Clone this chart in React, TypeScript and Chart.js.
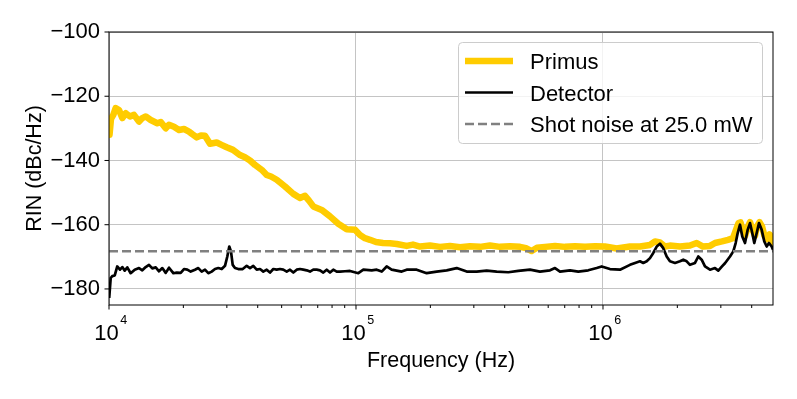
import React, { useEffect, useRef } from 'react';
import { Chart, registerables } from 'chart.js';

Chart.register(...registerables);

const FONT = '"Liberation Sans", Arial, Helvetica, sans-serif';

// Primus laser RIN (frequency in Hz, RIN in dBc/Hz)
const primusFreq = [
  10050, 10190, 10410, 10640, 10980, 11320, 11690, 12160, 12620, 13230, 13640, 14080, 14750, 15690,
  16200, 16970, 17500, 18330, 19200, 20120, 21080, 21740, 22650, 23570, 24470, 25640, 27290, 28680,
  29960, 31770, 33910, 35530, 37230, 39010, 41520, 43500, 45290, 47750, 51600, 55760, 59340, 62170,
  64530, 67170, 72630, 78480, 84800, 91700, 99100, 103800, 108700, 113900, 120500, 128600, 137300,
  146200, 160400, 170100, 181600, 199400, 218800, 240200, 263700, 289400, 317700, 348700, 382800,
  420200, 461300, 487800, 514300, 540400, 582500, 639400, 701900, 770300, 845600, 928200, 1019000,
  1136000, 1228000, 1286000, 1412000, 1550000, 1624000, 1701000, 1782000, 1867000, 2050000, 2250000,
  2395000, 2540000, 2712000, 2841000, 3033000, 3207000, 3360000, 3455000, 3537000, 3604000, 3672000,
  3758000, 3864000, 3937000, 4030000, 4125000, 4203000, 4302000, 4404000, 4507000, 4613000, 4722000,
  4811000, 4879000,
];
const primusRin = [
  -132.0, -127.0, -125.8, -123.7, -124.3, -126.8, -125.3, -126.3, -125.8, -127.9, -126.8, -126.3, -127.4, -128.4,
  -128.0, -130.0, -128.9, -129.5, -130.5, -130.2, -131.0, -131.8, -132.8, -132.2, -132.3, -134.8, -134.4, -135.2,
  -135.9, -136.7, -138.3, -139.0, -140.0, -141.4, -142.9, -144.5, -145.0, -146.0, -148.1, -150.4, -151.7, -151.0,
  -152.5, -154.3, -155.4, -157.4, -159.7, -161.4, -161.6, -163.2, -164.2, -164.7, -165.4, -165.7, -165.8,
  -166.0, -166.6, -166.2, -166.8, -166.5, -166.9, -166.6, -167.0, -166.7, -166.9, -166.5, -166.9,
  -166.7, -166.9, -167.3, -168.2, -167.2, -166.9, -166.6, -166.9, -166.7, -166.9, -166.7, -166.8,
  -167.4, -167.0, -166.8, -166.8, -166.3, -165.2, -165.5, -166.8, -166.5, -166.8, -166.5,
  -165.7, -166.8, -166.6, -165.7, -165.2, -164.7, -164.2, -161.6, -159.5, -159.3, -161.5,
  -163.5, -160.5, -159.2, -161.5, -163.5, -160.5, -159.2, -160.5, -163.5, -164.5, -163.0,
  -164.0, -165.7,
];

// Detector noise floor
const detectorFreq = [
  10020, 10160, 10310, 10550, 10800, 11080, 11320, 11580, 11860, 12240, 12710, 13230, 13640, 14080,
  14520, 14970, 15460, 15940, 16440, 16970, 17500, 18210, 18800, 19510, 20120, 20750, 21420, 22290,
  22990, 23730, 24470, 25230, 26040, 26860, 27700, 28600, 29490, 30130, 30690, 31180, 31680, 32370,
  33380, 34780, 36100, 37230, 38380, 39630, 40870, 42150, 43500, 44850, 46260, 47750, 49230, 50780,
  52420, 54040, 55760, 57540, 59340, 61170, 63140, 65120, 67170, 69330, 71500, 73730, 76110, 78480,
  80930, 83540, 86140, 90260, 94560, 102200, 107100, 115800, 121300, 127100, 133100, 139400, 153100,
  160400, 176100, 193300, 212200, 232900, 255700, 280700, 308100, 338100, 371200, 413600, 454100,
  506400, 555700, 610300, 639400, 669900, 735300, 794300, 871800, 943000, 987900, 1067000, 1172000,
  1286000, 1348000, 1412000, 1456000, 1503000, 1550000, 1598000, 1650000, 1701000, 1754000, 1811000,
  1867000, 1957000, 2050000, 2114000, 2182000, 2250000, 2358000, 2431000, 2509000, 2588000, 2712000,
  2841000, 2930000, 3033000, 3118000, 3268000, 3370000, 3445000, 3511000, 3587000, 3664000, 3758000,
  3853000, 3937000, 4022000, 4098000, 4191000, 4282000, 4390000, 4498000, 4600000, 4700000, 4819000,
  4879000,
];
const detectorRin = [
  -182.8, -176.6, -176.0, -175.8, -173.0, -174.0, -173.2, -174.3, -173.3, -175.1, -174.0, -173.5, -174.2, -173.2,
  -172.5, -173.6, -173.3, -174.5, -173.5, -175.0, -173.4, -175.1, -174.9, -175.0, -173.8, -174.0, -174.6, -174.0,
  -173.5, -174.6, -174.0, -175.1, -174.6, -173.8, -173.5, -173.8, -172.8, -169.9, -166.8, -168.3, -172.5, -173.5,
  -173.8, -173.8, -172.8, -173.5, -172.8, -174.0, -173.8, -174.6, -174.0, -174.9, -173.8, -174.0, -173.8, -174.0,
  -174.6, -174.0, -174.9, -174.0, -173.8, -174.0, -174.2, -174.6, -174.0, -174.0, -174.2, -174.9, -174.0, -174.9,
  -174.0, -174.6, -174.6, -174.5, -174.4, -175.1, -174.0, -174.2, -174.0, -174.6, -173.0, -174.0, -174.6,
  -174.0, -174.0, -175.1, -174.6, -174.2, -173.5, -174.6, -174.6, -174.3, -174.6, -174.8, -174.4,
  -174.0, -174.6, -174.2, -173.5, -174.6, -174.2, -174.6, -174.2, -173.5, -173.0, -173.8, -174.0,
  -172.5, -171.9, -171.4, -171.9, -171.4, -170.4, -168.8, -166.8, -165.9, -167.3, -169.9,
  -171.4, -171.9, -171.4, -170.9, -171.4, -172.5, -171.9, -169.9, -170.9, -173.0, -174.0,
  -173.5, -174.3, -173.0, -172.0, -169.9, -168.3, -165.7, -162.6, -160.0, -163.7, -165.7,
  -161.6, -159.5, -162.6, -165.7, -162.6, -159.5, -161.6, -165.2, -166.8, -165.7, -166.8,
  -167.8,
];

// Shot-noise limit at 25.0 mW
const shotFreq = [10000, 4879000];
const shotRin = [-168.3, -168.3];

const seriesLabels = ['Primus', 'Detector', 'Shot noise at 25.0 mW'];
const yTickValues = [-180, -160, -140, -120, -100];
const xDecades = [4, 5, 6];
const X_MIN = 10000;
const X_MAX = 4879000;
const Y_MIN = -185;
const Y_MAX = -100;

const GRID = '#c4c4c4';

const isDecade = (v: number) => {
  if (!v || v <= 0) return false;
  const l = Math.log10(v);
  return Math.abs(l - Math.round(l)) < 1e-9;
};

const xTickValues: number[] = [];
xDecades.forEach((d) => {
  for (let m = 1; m <= 9; m++) {
    const v = m * Math.pow(10, d);
    if (v >= X_MIN && v <= X_MAX) xTickValues.push(v);
  }
});

const fmtY = (v: number) => (v < 0 ? '\u2212' + Math.abs(v) : String(v));

const deco = {
  id: 'deco',
  afterDraw(chart: any) {
    const { ctx, chartArea: a, scales } = chart;
    const x = scales.x;
    const y = scales.y;
    ctx.save();

    // spines
    ctx.strokeStyle = '#000';
    ctx.lineWidth = 1;
    ctx.strokeRect(a.left, a.top, a.right - a.left, a.bottom - a.top);

    // x tick marks
    ctx.beginPath();
    xTickValues.forEach((v) => {
      const px = x.getPixelForValue(v);
      const len = isDecade(v) ? 4.5 : 3;
      ctx.moveTo(px, a.bottom);
      ctx.lineTo(px, a.bottom + len);
    });
    // y tick marks
    yTickValues.forEach((v) => {
      const py = y.getPixelForValue(v);
      ctx.moveTo(a.left - 4.5, py);
      ctx.lineTo(a.left, py);
    });
    ctx.stroke();

    // x tick labels 10^n
    ctx.fillStyle = '#000';
    ctx.textBaseline = 'alphabetic';
    ctx.textAlign = 'left';
    xDecades.forEach((d) => {
      const v = Math.pow(10, d);
      if (v < X_MIN || v > X_MAX) return;
      const px = x.getPixelForValue(v);
      ctx.font = `22px ${FONT}`;
      const base = '10';
      const wb = ctx.measureText(base).width;
      ctx.font = `12.5px ${FONT}`;
      const sup = String(d);
      const ws = ctx.measureText(sup).width;
      const x0 = px - (wb + ws) / 2 + 1;
      ctx.font = `22px ${FONT}`;
      ctx.fillText(base, x0, a.bottom + 35);
      ctx.font = `12.5px ${FONT}`;
      ctx.fillText(sup, x0 + wb + 1.5, a.bottom + 19);
    });

    // axis titles
    ctx.font = `21.5px ${FONT}`;
    ctx.textAlign = 'center';
    ctx.fillText('Frequency (Hz)', (a.left + a.right) / 2, a.bottom + 61.5);
    ctx.save();
    ctx.translate(41, (a.top + a.bottom) / 2);
    ctx.rotate(-Math.PI / 2);
    ctx.fillText('RIN (dBc/Hz)', 0, 0);
    ctx.restore();

    // legend
    const bx = 458.5, by = 42.5, bw = 304, bh = 101, r = 4;
    ctx.beginPath();
    ctx.moveTo(bx + r, by);
    ctx.lineTo(bx + bw - r, by);
    ctx.arcTo(bx + bw, by, bx + bw, by + r, r);
    ctx.lineTo(bx + bw, by + bh - r);
    ctx.arcTo(bx + bw, by + bh, bx + bw - r, by + bh, r);
    ctx.lineTo(bx + r, by + bh);
    ctx.arcTo(bx, by + bh, bx, by + bh - r, r);
    ctx.lineTo(bx, by + r);
    ctx.arcTo(bx, by, bx + r, by, r);
    ctx.closePath();
    ctx.fillStyle = 'rgba(255,255,255,0.8)';
    ctx.fill();
    ctx.strokeStyle = '#cccccc';
    ctx.lineWidth = 1;
    ctx.stroke();

    const rows = [61, 92.5, 124];
    chart.data.datasets.forEach((ds: any, i: number) => {
      const ry = rows[i];
      ctx.beginPath();
      ctx.strokeStyle = ds.borderColor;
      ctx.lineWidth = ds.borderWidth;
      ctx.setLineDash(ds.borderDash || []);
      ctx.lineCap = 'butt';
      ctx.moveTo(465, ry);
      ctx.lineTo(513, ry);
      ctx.stroke();
      ctx.setLineDash([]);
      ctx.fillStyle = '#000';
      ctx.textAlign = 'left';
      ctx.font = `22px ${FONT}`;
      ctx.fillText(ds.label, 530, ry + 8);
    });

    ctx.restore();
  },
};

export default function App() {
  const ref = useRef<HTMLCanvasElement>(null);
  useEffect(() => {
    const canvas = ref.current;
    if (!canvas) return;
    const chart = new Chart(canvas, {
      type: 'line',
      data: {
        datasets: [
          {
            label: seriesLabels[0],
            data: primusFreq.map((f, i) => ({ x: f, y: primusRin[i] })),
            borderColor: '#FFCC00',
            borderWidth: 6.5,
            pointRadius: 0,
            tension: 0,
            order: 3,
            borderJoinStyle: 'round',
            borderCapStyle: 'round',
          },
          {
            label: seriesLabels[1],
            data: detectorFreq.map((f, i) => ({ x: f, y: detectorRin[i] })),
            borderColor: '#000000',
            borderWidth: 2.7,
            pointRadius: 0,
            tension: 0,
            order: 2,
            borderJoinStyle: 'round',
          },
          {
            label: seriesLabels[2],
            data: shotFreq.map((f, i) => ({ x: f, y: shotRin[i] })),
            borderColor: '#808080',
            borderWidth: 2.5,
            borderDash: [9, 4],
            pointRadius: 0,
            tension: 0,
            order: 1,
          },
        ],
      } as any,
      options: {
        responsive: false,
        animation: false,
        devicePixelRatio: 1,
        layout: { padding: { top: 32, right: 24, left: 0, bottom: 0 } },
        plugins: { legend: { display: false }, tooltip: { enabled: false } },
        scales: {
          x: {
            type: 'logarithmic',
            min: X_MIN,
            max: X_MAX,
            afterBuildTicks: (s: any) => {
              s.ticks = xTickValues.map((v) => ({ value: v }));
            },
            afterFit: (s: any) => {
              s.height = 94;
            },
            ticks: { display: false },
            grid: {
              color: (c: any) => (c.tick && isDecade(c.tick.value) ? GRID : 'rgba(0,0,0,0)'),
              lineWidth: 1,
              drawTicks: false,
            },
            border: { display: false },
          },
          y: {
            type: 'linear',
            min: Y_MIN,
            max: Y_MAX,
            afterBuildTicks: (s: any) => {
              s.ticks = yTickValues.map((v) => ({ value: v }));
            },
            afterFit: (s: any) => {
              s.width = 109;
            },
            ticks: {
              color: '#000',
              font: { family: FONT, size: 22 },
              padding: 9,
              callback: (v: any) => fmtY(Number(v)),
            },
            grid: { color: GRID, lineWidth: 1, drawTicks: false },
            border: { display: false },
          },
        },
      } as any,
      plugins: [deco],
    });
    return () => chart.destroy();
  }, []);
  return (
    <div style={{ position: 'absolute', left: 0, top: 0, width: 797, height: 399 }}>
      <canvas ref={ref} width={797} height={399} style={{ display: 'block' }} />
    </div>
  );
}
